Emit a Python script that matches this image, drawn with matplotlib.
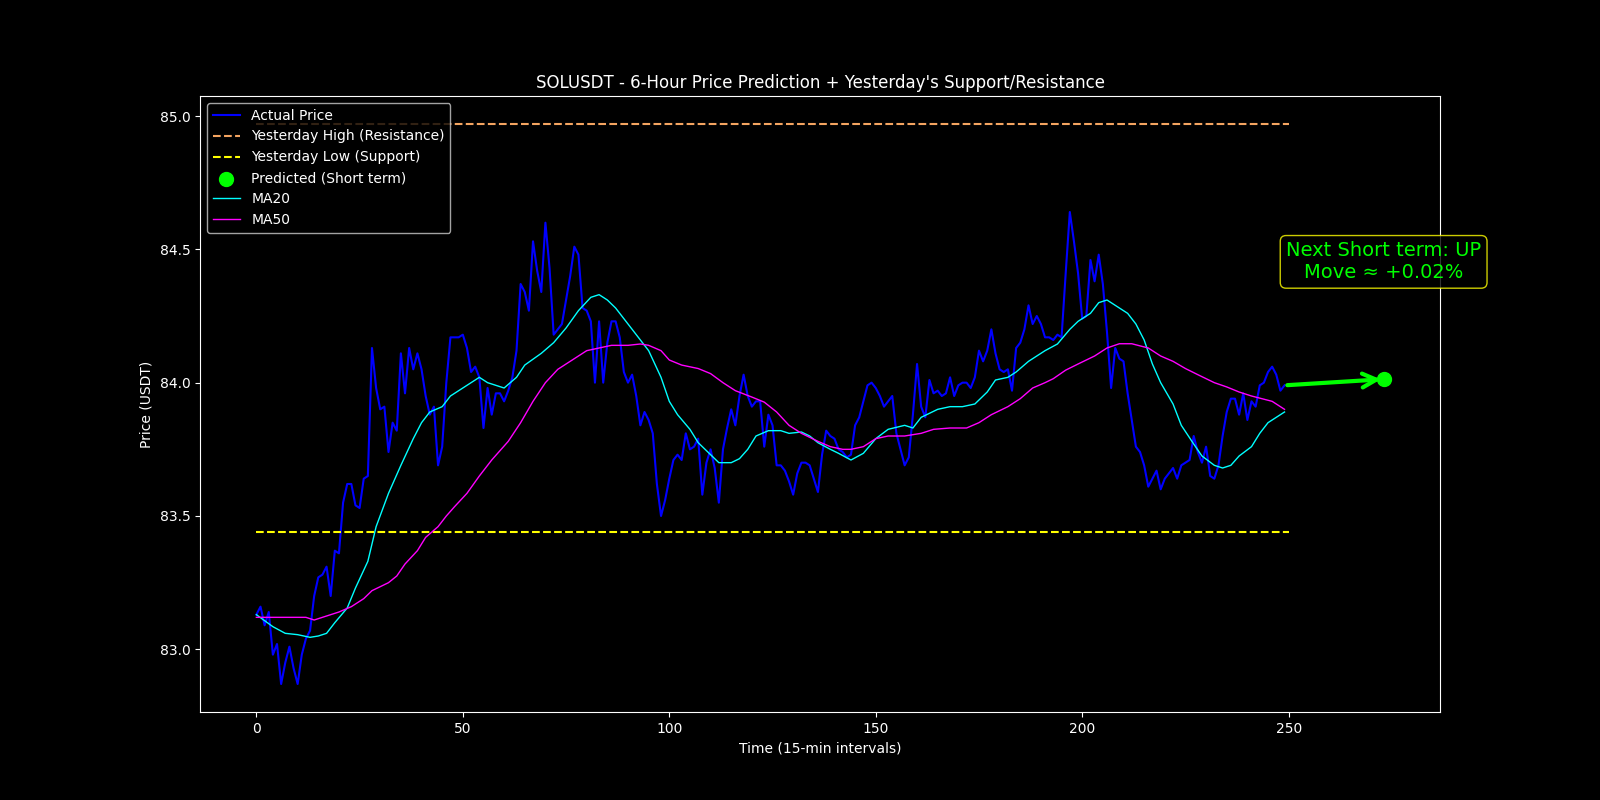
import matplotlib
matplotlib.use('Agg')
import matplotlib.pyplot as plt
import numpy as np

plt.style.use('dark_background')

# precio SOLUSDT, velas de 15 min
price = [83.13, 83.16, 83.09, 83.14, 82.98, 83.02, 82.87, 82.95, 83.01, 82.93,
         82.87, 82.98, 83.04, 83.07, 83.20, 83.27, 83.28, 83.31, 83.20, 83.37,
         83.36, 83.55, 83.62, 83.62, 83.54, 83.53, 83.64, 83.65, 84.13, 83.98,
         83.90, 83.91, 83.74, 83.85, 83.82, 84.11, 83.96, 84.13, 84.05, 84.11,
         84.05, 83.95, 83.88, 83.91, 83.69, 83.76, 84.00, 84.17, 84.17, 84.17,
         84.18, 84.13, 84.04, 84.06, 84.02, 83.83, 83.98, 83.88, 83.96, 83.96,
         83.93, 83.97, 84.02, 84.12, 84.37, 84.34, 84.27, 84.53, 84.42, 84.34,
         84.60, 84.43, 84.18, 84.20, 84.22, 84.31, 84.40, 84.51, 84.48, 84.28,
         84.27, 84.23, 84.00, 84.23, 84.00, 84.15, 84.23, 84.23, 84.17, 84.04,
         84.00, 84.03, 83.95, 83.84, 83.89, 83.86, 83.81, 83.62, 83.50, 83.56,
         83.64, 83.71, 83.73, 83.71, 83.81, 83.75, 83.76, 83.79, 83.58, 83.70,
         83.75, 83.68, 83.55, 83.75, 83.83, 83.90, 83.84, 83.95, 84.03, 83.95,
         83.91, 83.93, 83.93, 83.76, 83.88, 83.84, 83.69, 83.69, 83.67, 83.63,
         83.58, 83.66, 83.70, 83.70, 83.69, 83.64, 83.59, 83.73, 83.82, 83.80,
         83.79, 83.75, 83.74, 83.72, 83.73, 83.84, 83.87, 83.93, 83.99, 84.00,
         83.98, 83.95, 83.91, 83.93, 83.95, 83.81, 83.75, 83.69, 83.72, 83.88,
         84.07, 83.91, 83.87, 84.01, 83.96, 83.97, 83.95, 83.96, 84.02, 83.95,
         83.99, 84.00, 84.00, 83.98, 84.02, 84.12, 84.08, 84.12, 84.20, 84.11,
         84.05, 84.04, 84.05, 83.97, 84.13, 84.15, 84.20, 84.29, 84.22, 84.25,
         84.22, 84.17, 84.17, 84.16, 84.18, 84.17, 84.41, 84.64, 84.53, 84.41,
         84.24, 84.25, 84.46, 84.38, 84.48, 84.37, 84.19, 83.98, 84.13, 84.09,
         84.08, 83.96, 83.86, 83.76, 83.74, 83.69, 83.61, 83.64, 83.67, 83.60,
         83.64, 83.66, 83.68, 83.64, 83.69, 83.70, 83.71, 83.80, 83.74, 83.70,
         83.76, 83.65, 83.64, 83.69, 83.80, 83.89, 83.94, 83.94, 83.88, 83.96,
         83.86, 83.93, 83.91, 83.99, 84.00, 84.04, 84.06, 84.03, 83.97, 83.99]

# medias moviles
ma20_x = [0, 4, 7, 10, 13, 15, 17, 19, 22, 24, 27, 29, 32, 35, 38, 40, 42, 45, 47, 49,
          52, 54, 56, 60, 63, 65, 69, 72, 75, 78, 81, 83, 85, 87, 90, 93, 95, 98, 100, 102,
          105, 107, 110, 112, 115, 117, 119, 121, 124, 127, 129, 132, 134, 136, 139, 141, 144,
          147, 150, 153, 157, 159, 161, 165, 168, 171, 174, 177, 179, 182, 184, 187, 191, 194,
          197, 199, 202, 204, 206, 208, 211, 213, 215, 217, 219, 222, 224, 227, 229, 232, 234,
          236, 238, 241, 243, 245, 249]
ma20 = [83.13, 83.085, 83.06, 83.055, 83.045, 83.05, 83.06, 83.10, 83.155, 83.23,
        83.33, 83.46, 83.585, 83.69, 83.79, 83.85, 83.89, 83.91, 83.95, 83.97,
        84.00, 84.02, 84.00, 83.98, 84.02, 84.066, 84.11, 84.15, 84.205, 84.27,
        84.32, 84.33, 84.31, 84.28, 84.22, 84.16, 84.12, 84.02, 83.93, 83.88,
        83.825, 83.775, 83.73, 83.70, 83.70, 83.715, 83.75, 83.80, 83.82, 83.82,
        83.81, 83.815, 83.80, 83.775, 83.75, 83.735, 83.71, 83.735, 83.79, 83.825,
        83.84, 83.83, 83.87, 83.90, 83.91, 83.91, 83.92, 83.965, 84.01, 84.02,
        84.04, 84.08, 84.12, 84.145, 84.20, 84.23, 84.26, 84.30, 84.31, 84.29,
        84.26, 84.22, 84.16, 84.07, 84.00, 83.92, 83.84, 83.77, 83.725, 83.69,
        83.68, 83.69, 83.725, 83.76, 83.81, 83.85, 83.89]

ma50_x = [0, 5, 10, 12, 14, 17, 20, 23, 26, 28, 32, 34, 36, 39, 41, 44, 46, 48, 51, 54,
          57, 61, 64, 67, 70, 73, 77, 80, 83, 86, 90, 93, 95, 98, 100, 103, 107, 110, 113,
          116, 120, 123, 126, 129, 132, 136, 139, 142, 144, 147, 150, 153, 157, 161, 164,
          168, 172, 175, 178, 182, 185, 188, 191, 193, 196, 199, 203, 206, 209, 212, 216,
          219, 222, 225, 228, 232, 235, 238, 241, 246, 249]
ma50 = [83.12, 83.12, 83.12, 83.12, 83.11, 83.125, 83.14, 83.16, 83.19, 83.22,
        83.25, 83.275, 83.32, 83.37, 83.42, 83.46, 83.50, 83.535, 83.585, 83.65,
        83.71, 83.78, 83.85, 83.93, 84.00, 84.05, 84.09, 84.12, 84.13, 84.14,
        84.14, 84.145, 84.14, 84.12, 84.085, 84.066, 84.053, 84.034, 84.00, 83.97,
        83.946, 83.927, 83.89, 83.84, 83.81, 83.78, 83.76, 83.75, 83.75, 83.76,
        83.79, 83.80, 83.80, 83.81, 83.825, 83.83, 83.83, 83.85, 83.88, 83.91,
        83.94, 83.98, 84.00, 84.015, 84.047, 84.07, 84.10, 84.13, 84.146, 84.146,
        84.13, 84.10, 84.08, 84.053, 84.03, 84.00, 83.984, 83.965, 83.95, 83.93, 83.90]

yest_high = 84.97
yest_low = 83.44
pred_x = 273
pred_price = 84.013
move_pct = 0.02
direction = 'UP'

x = np.arange(len(price))

fig, ax = plt.subplots(figsize=(16, 8), dpi=100)

ax.plot(x, price, color='blue', lw=1.5, label='Actual Price')
ax.plot([0, len(price)], [yest_high, yest_high], color='#F4A460', ls='--', lw=1.5,
        label='Yesterday High (Resistance)')
ax.plot([0, len(price)], [yest_low, yest_low], color='yellow', ls='--', lw=1.5,
        label='Yesterday Low (Support)')
ax.scatter([pred_x], [pred_price], color='lime', s=100, zorder=5, label='Predicted (Short term)')
ax.plot(ma20_x, ma20, color='cyan', lw=1, label='MA20')
ax.plot(ma50_x, ma50, color='magenta', lw=1, label='MA50')

ax.annotate('', xy=(pred_x, pred_price), xytext=(x[-1], price[-1]),
            arrowprops=dict(arrowstyle='->', color='lime', lw=3, mutation_scale=25))

ax.text(pred_x, pred_price + 0.44,
        'Next Short term: ' + direction + '\nMove \u2248 +' + format(move_pct, '.2f') + '%',
        color='lime', fontsize=14, ha='center', va='center',
        bbox=dict(boxstyle='round', facecolor='black', edgecolor='yellow', alpha=0.8))

ax.set_title("SOLUSDT - 6-Hour Price Prediction + Yesterday's Support/Resistance")
ax.set_xlabel('Time (15-min intervals)')
ax.set_ylabel('Price (USDT)')
ax.legend(loc='upper left')

plt.savefig('out.png', dpi=100)
